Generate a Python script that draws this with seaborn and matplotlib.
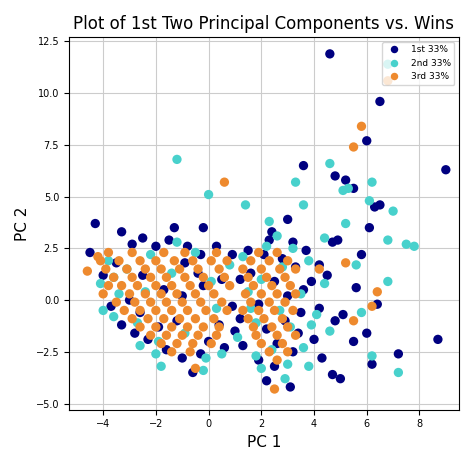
import matplotlib
matplotlib.use('Agg')
import matplotlib.pyplot as plt
import seaborn as sns
import pandas as pd

# points, (PC1, PC2)
pts_1st = [(4.6, 11.9), (6.5, 9.6), (6.0, 7.7), (3.6, 6.5), (9.0, 6.3), (4.8, 6.0), (5.2, 5.8), (5.5, 5.4),
           (6.3, 4.5), (6.5, 4.6), (4.7, 2.8), (4.9, 2.9), (5.8, 2.2), (6.1, 3.5), (4.2, 1.7), (4.5, 1.2),
           (5.6, 0.6), (6.4, -0.2), (4.2, -0.4), (4.8, -1.0), (5.1, -0.7), (6.0, -1.6), (5.5, -2.0), (4.3, -2.8),
           (4.7, -3.6), (5.0, -3.8), (6.2, -3.1), (7.2, -2.6), (8.7, -1.9), (3.1, -4.2), (2.2, -3.9), (-0.6, -3.5),
           (-4.3, 3.7), (-3.3, 3.3), (-1.3, 3.5), (-0.2, 3.5), (2.4, 3.3), (3.2, 2.8), (3.0, 3.9),
           (-4.5, 2.3), (-4.0, 1.2), (-3.7, -0.3), (-3.3, -1.2), (-2.9, 2.7), (-2.5, 3.0), (-2.0, 2.6), (-1.5, 2.9),
           (-0.8, 2.6), (-0.3, 2.2), (0.3, 2.6), (0.9, 2.2), (1.2, 1.0), (0.9, -0.3), (1.0, -1.5), (0.6, -2.3),
           (-0.3, -2.6), (-1.0, -2.8), (-1.6, -2.4), (-2.3, -1.9), (-2.8, -1.6), (-1.7, 0.5), (-2.5, 1.2), (-0.4, 1.3),
           (-1.2, -1.0), (1.5, 2.4), (2.1, 2.2), (2.8, 2.0), (3.3, 1.6), (3.6, 0.5), (3.5, -0.6), (3.4, -1.6),
           (3.2, -2.5), (2.5, -3.2), (1.9, -2.9), (1.3, -2.2), (1.2, -0.9), (1.9, -0.2), (2.5, 0.9), (2.2, -1.4),
           (2.9, -1.0), (2.6, -2.1), (3.0, 0.2), (1.6, 1.3), (-0.2, 0.7), (-3.0, 0.0), (-1.9, -1.3), (0.5, 1.0),
           (-0.9, 1.8), (-3.5, 1.8), (3.7, 2.4), (4.0, -1.9), (3.9, 0.9), (2.3, 2.9), (0.0, -2.0), (-2.6, -0.6),
           (-1.0, 0.2), (0.4, -1.2)]

pts_2nd = [(-1.2, 6.8), (6.8, 11.4), (4.6, 6.6), (5.1, 5.3), (5.3, 5.4), (3.3, 5.7), (6.1, 4.8), (6.2, 5.7),
           (7.0, 4.3), (7.5, 2.7), (7.8, 2.6), (6.8, 2.9), (5.2, 3.7), (3.6, 4.6), (0.0, 5.1), (1.4, 4.6),
           (2.3, 3.8), (4.4, 3.0), (5.6, 1.7), (6.8, 0.9), (7.2, -3.5), (6.2, -2.7), (5.8, -0.6), (4.6, -1.5),
           (3.8, -3.2), (2.9, -3.8), (-1.8, -3.2), (-0.2, -3.4), (-2.6, -2.2), (-4.0, -0.5), (-3.6, 1.1), (1.8, -2.7),
           (-4.1, 0.8), (-3.6, -0.8), (-3.1, 1.5), (-2.7, -1.1), (-2.2, 2.2), (-1.9, -2.0), (-1.4, 1.3), (-0.9, -1.6),
           (-0.5, 2.3), (0.1, 0.9), (0.5, -2.6), (0.8, 1.7), (1.3, 2.1), (1.6, -0.4), (2.0, 1.0), (2.4, -2.4),
           (2.8, 1.6), (3.1, -1.3), (3.5, 0.3), (3.8, 1.9), (3.6, -2.3), (1.1, -1.8), (2.2, 2.6), (2.7, -0.5),
           (-1.2, 2.8), (-2.4, 0.4), (-3.4, 0.3), (0.3, -0.4), (1.5, 0.4), (3.2, 2.5), (4.1, -0.7), (2.0, -3.3),
           (3.0, -3.1), (-0.1, -2.8), (-2.0, -2.6), (-3.8, 1.9), (4.4, 0.8), (3.9, -1.2), (2.6, 3.1), (1.8, -1.1)]

pts_3rd = [(5.8, 8.4), (5.5, 7.4), (6.8, 10.6), (0.6, 5.7), (2.5, -4.3), (6.2, -0.3), (6.4, 0.4), (5.2, 1.8),
           (4.2, 1.5), (5.5, -1.0), (-4.6, 1.4), (-4.2, 2.1), (-0.5, -3.3),
           (-3.8, 2.3), (-2.9, 2.3), (-1.7, 2.3), (-0.9, 2.3), (0.3, 2.3), (1.9, 2.3), (2.6, 2.3),
           (-4.1, 1.9), (-3.4, 1.9), (-2.6, 1.9), (-2.0, 1.9), (-1.3, 1.9), (-0.6, 1.9), (0.1, 1.9), (0.7, 1.9),
           (1.6, 1.9), (2.3, 1.9), (3.0, 1.9),
           (-3.9, 1.5), (-3.1, 1.5), (-2.4, 1.5), (-1.8, 1.5), (-1.1, 1.5), (-0.4, 1.5), (0.4, 1.5), (1.3, 1.5),
           (2.0, 1.5), (2.7, 1.5), (3.3, 1.5),
           (-3.6, 1.1), (-2.9, 1.1), (-2.2, 1.1), (-1.6, 1.1), (-0.9, 1.1), (-0.2, 1.1), (0.6, 1.1), (1.5, 1.1),
           (2.2, 1.1), (2.9, 1.1),
           (-3.8, 0.7), (-3.3, 0.7), (-2.7, 0.7), (-2.0, 0.7), (-1.4, 0.7), (-0.7, 0.7), (0.0, 0.7), (0.8, 0.7),
           (1.7, 0.7), (2.4, 0.7), (3.1, 0.7),
           (-4.0, 0.3), (-3.0, 0.3), (-2.4, 0.3), (-1.8, 0.3), (-1.2, 0.3), (-0.5, 0.3), (0.2, 0.3), (1.4, 0.3),
           (2.0, 0.3), (2.6, 0.3), (3.3, 0.3),
           (-3.5, -0.1), (-2.8, -0.1), (-2.2, -0.1), (-1.6, -0.1), (-1.0, -0.1), (-0.3, -0.1), (0.5, -0.1),
           (1.6, -0.1), (2.3, -0.1), (2.9, -0.1),
           (-3.2, -0.5), (-2.6, -0.5), (-2.0, -0.5), (-1.4, -0.5), (-0.8, -0.5), (-0.1, -0.5), (0.7, -0.5),
           (1.3, -0.5), (1.9, -0.5), (2.5, -0.5), (3.2, -0.5),
           (-2.9, -0.9), (-2.3, -0.9), (-1.7, -0.9), (-1.1, -0.9), (-0.5, -0.9), (0.2, -0.9), (1.5, -0.9),
           (2.1, -0.9), (2.8, -0.9),
           (-2.6, -1.3), (-2.0, -1.3), (-1.4, -1.3), (-0.8, -1.3), (-0.2, -1.3), (0.4, -1.3), (1.7, -1.3),
           (2.4, -1.3), (3.0, -1.3),
           (-2.2, -1.7), (-1.6, -1.7), (-1.0, -1.7), (-0.4, -1.7), (0.3, -1.7), (1.8, -1.7), (2.6, -1.7), (3.3, -1.7),
           (-1.8, -2.1), (-1.2, -2.1), (-0.6, -2.1), (0.1, -2.1), (2.0, -2.1), (2.8, -2.1),
           (-1.4, -2.5), (-0.7, -2.5), (2.3, -2.5), (3.0, -2.5), (2.6, -2.9)]

groups = ['1st 33%', '2nd 33%', '3rd 33%']
colors = ['navy', 'mediumturquoise', '#EE8A2E']

rows = []
for g, pts in zip(groups, [pts_1st, pts_2nd, pts_3rd]):
    for x, y in pts:
        rows.append({'PC 1': x, 'PC 2': y, 'group': g})
df = pd.DataFrame(rows)

fig, ax = plt.subplots(figsize=(4.74, 4.65), dpi=100)
sns.scatterplot(data=df, x='PC 1', y='PC 2', hue='group', palette=colors,
                s=45, edgecolor='none', alpha=1, ax=ax)
ax.grid(True, color='#cccccc', linewidth=0.8)
ax.set_axisbelow(True)
ax.set_xlim(-5.3, 9.5)
ax.set_ylim(-5.3, 12.7)
ax.set_yticks([-5.0, -2.5, 0.0, 2.5, 5.0, 7.5, 10.0, 12.5])
ax.tick_params(labelsize=7)
ax.set_title('Plot of 1st Two Principal Components vs. Wins', fontsize=12)
ax.set_xlabel('PC 1', fontsize=11)
ax.set_ylabel('PC 2', fontsize=11)
ax.legend(loc='upper right', fontsize=6.5, markerscale=0.8)
plt.tight_layout()
plt.savefig('out.png')
